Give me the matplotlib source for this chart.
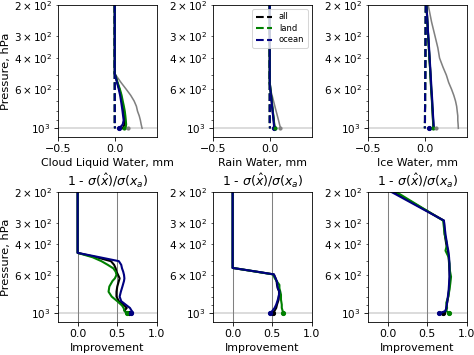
import numpy as np
from matplotlib import pyplot as plt

# pressure levels, hPa
p_top = [200, 300, 400, 450, 490, 550, 600, 650, 700, 750, 800, 850, 900, 950, 1000]
p_ice = [200, 250, 300, 350, 400, 450, 500, 550, 600, 650, 700, 750, 800, 850, 900, 950, 1000]

# Cloud liquid water, mm
clw_prior = [0, 0, 0, 0, 0, 0.055, 0.10, 0.14, 0.17, 0.19, 0.20, 0.215, 0.225, 0.232, 0.24]
clw_all = [0, 0, 0, 0, 0, 0.022, 0.04, 0.053, 0.062, 0.07, 0.077, 0.082, 0.087, 0.085, 0.07]
clw_land = [0, 0, 0, 0, 0, 0.025, 0.045, 0.06, 0.07, 0.08, 0.088, 0.093, 0.097, 0.10, 0.095]
clw_ocean = [0, 0, 0, 0, 0, 0.02, 0.035, 0.047, 0.055, 0.062, 0.068, 0.073, 0.078, 0.07, 0.04]
clw_dash = [0, 0, 0, 0, 0, 0, 0, 0, 0, 0, 0, 0, 0, 0, 0.002]
clw_sfc = [0.035, 0.08, 0.12]  # ocean, land, prior

# Rain water, mm
rain_prior = [0, 0, 0, 0, 0, 0, 0.006, 0.02, 0.033, 0.045, 0.056, 0.067, 0.077, 0.086, 0.095]
rain_all = [0, 0, 0, 0, 0, 0, 0.005, 0.011, 0.017, 0.021, 0.026, 0.03, 0.035, 0.038, 0.042]
rain_land = [0, 0, 0, 0, 0, 0, 0.006, 0.012, 0.018, 0.022, 0.027, 0.032, 0.036, 0.04, 0.045]
rain_ocean = [0, 0, 0, 0, 0, 0, 0.005, 0.011, 0.016, 0.02, 0.025, 0.029, 0.033, 0.036, 0.04]
rain_dash = [0, 0, 0, 0, 0, 0, 0, 0, 0, 0, 0, 0, 0, 0, 0.002]
rain_sfc = [0.04, 0.05, 0.09]

# Ice water, mm
ice_prior = [0.03, 0.06, 0.09, 0.115, 0.13, 0.16, 0.19, 0.21, 0.235, 0.255, 0.27, 0.28,
             0.285, 0.29, 0.29, 0.293, 0.295]
ice_all = [0.015, 0.023, 0.03, 0.036, 0.041, 0.046, 0.05, 0.053, 0.056, 0.06, 0.063, 0.065,
           0.068, 0.07, 0.072, 0.074, 0.076]
ice_land = [0.015, 0.023, 0.03, 0.036, 0.041, 0.046, 0.05, 0.054, 0.057, 0.061, 0.064, 0.066,
            0.069, 0.071, 0.073, 0.075, 0.077]
ice_ocean = [0.015, 0.024, 0.031, 0.038, 0.043, 0.048, 0.052, 0.056, 0.059, 0.063, 0.066, 0.068,
             0.071, 0.073, 0.076, 0.078, 0.08]
ice_dash = [0.009, 0.008, 0.007, 0.006, 0.006, 0.005, 0.005, 0.004, 0.004, 0.003, 0.003, 0.003,
            0.002, 0.002, 0.002, 0.001, 0.001]
ice_sfc = [0.04, 0.07, 0.1]

# Improvement, 1 - sigma(x_hat)/sigma(x_a)
p_clw_imp = [200, 448, 475, 500, 525, 550, 575, 600, 628, 650, 700, 750, 800, 850, 900, 930,
             963, 990, 1000]
clw_imp_all = [0, 0, 0.24, 0.42, 0.46, 0.48, 0.49, 0.51, 0.53, 0.52, 0.50, 0.49, 0.49, 0.52,
               0.59, 0.62, 0.59, 0.62, 0.65]
clw_imp_land = [0, 0, 0.19, 0.30, 0.38, 0.45, 0.48, 0.49, 0.47, 0.44, 0.40, 0.39, 0.43, 0.50,
                0.56, 0.58, 0.59, 0.61, 0.62]
clw_imp_ocean = [0, 0, 0.28, 0.52, 0.55, 0.56, 0.575, 0.585, 0.59, 0.585, 0.565, 0.545, 0.53,
                 0.55, 0.62, 0.66, 0.68, 0.70, 0.67]

p_rain_imp = [200, 547, 575, 596, 625, 656, 685, 716, 745, 781, 834, 889, 929, 1000]
rain_imp_all = [0, 0, 0.30, 0.52, 0.54, 0.555, 0.56, 0.57, 0.585, 0.585, 0.58, 0.56, 0.55, 0.51]
rain_imp_land = [0, 0, 0.30, 0.51, 0.53, 0.56, 0.59, 0.59, 0.60, 0.61, 0.61, 0.62, 0.62, 0.64]
rain_imp_ocean = [0, 0, 0.31, 0.52, 0.54, 0.56, 0.565, 0.57, 0.59, 0.585, 0.57, 0.55, 0.53, 0.475]

p_ice_imp = [200, 292, 350, 400, 435, 475, 516, 565, 615, 675, 731, 800, 869, 930, 969, 1000]
ice_imp_all = [0.08, 0.71, 0.72, 0.74, 0.76, 0.77, 0.775, 0.78, 0.785, 0.78, 0.775, 0.765,
               0.75, 0.74, 0.73, 0.70]
ice_imp_land = [0.11, 0.70, 0.72, 0.75, 0.73, 0.77, 0.78, 0.785, 0.80, 0.79, 0.78, 0.765,
                0.74, 0.75, 0.74, 0.78]
ice_imp_ocean = [0.05, 0.71, 0.73, 0.75, 0.765, 0.775, 0.78, 0.78, 0.78, 0.775, 0.77, 0.76,
                 0.75, 0.74, 0.73, 0.65]

top_labels = ['Cloud Liquid Water, mm', 'Rain Water, mm', 'Ice Water, mm']
series_names = ['all', 'land', 'ocean']
colors = ['black', 'green', 'navy']

top_data = [
    (p_top, clw_prior, [clw_all, clw_land, clw_ocean], clw_dash, clw_sfc),
    (p_top, rain_prior, [rain_all, rain_land, rain_ocean], rain_dash, rain_sfc),
    (p_ice, ice_prior, [ice_all, ice_land, ice_ocean], ice_dash, ice_sfc),
]
bottom_data = [
    (p_clw_imp, [clw_imp_all, clw_imp_land, clw_imp_ocean]),
    (p_rain_imp, [rain_imp_all, rain_imp_land, rain_imp_ocean]),
    (p_ice_imp, [ice_imp_all, ice_imp_land, ice_imp_ocean]),
]

plt.rcParams['font.size'] = 10.5
plt.rcParams['ytick.labelsize'] = 10

# figure drawn at a lower dpi so the fonts come out small like the original
fig = plt.figure(figsize=(474 / 75, 355 / 75), dpi=75)
lefts = [0.122, 0.449, 0.776]
w = 0.209

# top row: profiles
for i, (p, prior, sols, dash, sfc) in enumerate(top_data):
    ax = fig.add_axes([lefts[i], 0.614, w, 0.372])
    ax.axhline(1000, color='lightgrey', lw=1.5, zorder=0)
    ax.plot(prior, p, color='grey', lw=1.5)
    for s, c in zip(sols, colors):
        ax.plot(s, p, color=c, lw=2)
    for c, name in zip(colors, series_names):
        ax.plot(dash, p, color=c, ls='--', lw=2, label=name)
    ax.plot(sfc[0], 1000, 'o', color='navy', ms=4)
    ax.plot(sfc[1], 1000, 'o', color='green', ms=3)
    ax.plot(sfc[2], 1000, 'o', color='grey', ms=3)
    ax.set_yscale('log')
    ax.set_ylim(1120, 200)
    ax.set_xlim(-0.5, 0.37)
    ax.set_xticks([-0.5, 0.0])
    ax.set_xlabel(top_labels[i])
    if i == 0:
        ax.set_ylabel('Pressure, hPa', fontsize=11)
        ax.yaxis.set_label_coords(-0.47, 0.5)
    if i == 1:
        ax.legend(loc='upper right', fontsize=8, handlelength=2, borderpad=0.4,
                  labelspacing=0.3)

# bottom row: improvement
for i, (p, sols) in enumerate(bottom_data):
    ax = fig.add_axes([lefts[i], 0.093, w, 0.366])
    ax.axhline(1000, color='lightgrey', lw=1.5, zorder=0)
    ax.axvline(0, color='grey', lw=1, zorder=0)
    ax.axvline(0.5, color='grey', lw=1, zorder=0)
    for s, c in zip(sols, colors):
        ax.plot(s, p, color=c, lw=2, marker='o', ms=4, markevery=[-1])
    ax.set_yscale('log')
    ax.set_ylim(1120, 200)
    ax.set_xlim(-0.25, 1.0)
    ax.set_xticks([0.0, 0.5, 1.0])
    ax.set_xlabel('Improvement')
    ax.set_title(r'1 - $\sigma(\hat{x})/\sigma(x_a)$', fontsize=12)
    if i == 0:
        ax.set_ylabel('Pressure, hPa', fontsize=11)
        ax.yaxis.set_label_coords(-0.47, 0.5)

plt.savefig('out.png', dpi=75)
